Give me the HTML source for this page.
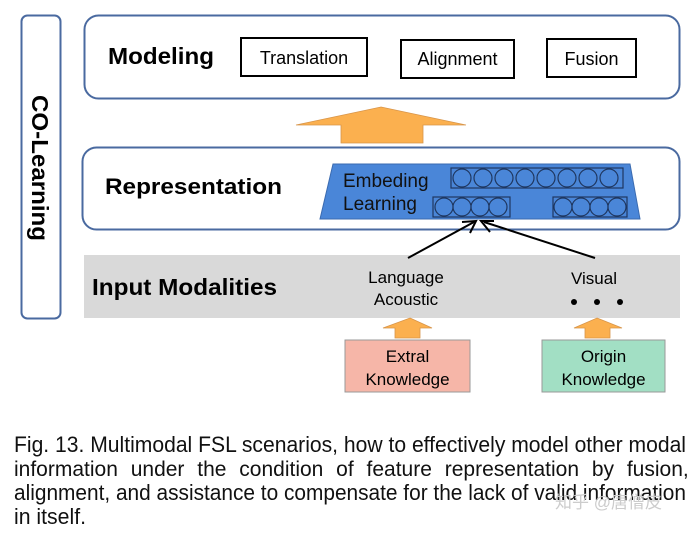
<!DOCTYPE html>
<html><head><style>html,body{margin:0;padding:0;background:#fff;}</style></head>
<body>
<svg width="700" height="532" viewBox="0 0 700 532" xmlns="http://www.w3.org/2000/svg" font-family="Liberation Sans, Arial, sans-serif">
<rect x="0" y="0" width="700" height="532" fill="#fff"/>
<rect x="21.5" y="15.5" width="39" height="303" rx="6" fill="#fff" stroke="#4a6aa0" stroke-width="2"/>
<text x="0" y="0" transform="translate(32,168) rotate(90)" text-anchor="middle" font-size="23" font-weight="bold" textLength="146" lengthAdjust="spacingAndGlyphs">CO-Learning</text>
<rect x="84.5" y="15.5" width="595" height="83" rx="14" fill="#fff" stroke="#4a6aa0" stroke-width="2"/>
<text x="108" y="64" font-size="23" font-weight="bold" textLength="106" lengthAdjust="spacingAndGlyphs">Modeling</text>
<rect x="241" y="38" width="126" height="38" fill="#fff" stroke="#000" stroke-width="2"/>
<text x="304" y="64" text-anchor="middle" font-size="18">Translation</text>
<rect x="401" y="40" width="113" height="38" fill="#fff" stroke="#000" stroke-width="2"/>
<text x="457.5" y="65" text-anchor="middle" font-size="18">Alignment</text>
<rect x="547" y="39" width="89" height="38" fill="#fff" stroke="#000" stroke-width="2"/>
<text x="591.5" y="65" text-anchor="middle" font-size="18">Fusion</text>
<polygon points="381,107 466,125 423,125 423,143 341,143 341,125 296,125" fill="#fbb04f" stroke="#d8954a" stroke-width="0.8"/>
<rect x="82.5" y="147.5" width="597" height="82" rx="14" fill="#fff" stroke="#4a6aa0" stroke-width="2"/>
<text x="105" y="194" font-size="22" font-weight="bold" textLength="177" lengthAdjust="spacingAndGlyphs">Representation</text>
<polygon points="333,164 630,164 640,219 320,219" fill="#4a86d8" stroke="#3b6bb0" stroke-width="1"/>
<text x="343" y="187" font-size="19" fill="#111">Embeding</text>
<text x="343" y="210" font-size="19" fill="#111">Learning</text>
<g fill="none" stroke="#1f3760" stroke-width="1.2">
<rect x="451" y="168" width="172" height="20"/>
<circle cx="462" cy="178" r="9"/><circle cx="483" cy="178" r="9"/><circle cx="504" cy="178" r="9"/><circle cx="525" cy="178" r="9"/><circle cx="546" cy="178" r="9"/><circle cx="567" cy="178" r="9"/><circle cx="588" cy="178" r="9"/><circle cx="609" cy="178" r="9"/>
<rect x="433" y="197" width="77" height="20"/>
<circle cx="444" cy="207" r="9"/><circle cx="462" cy="207" r="9"/><circle cx="480" cy="207" r="9"/><circle cx="498" cy="207" r="9"/>
<rect x="553" y="197" width="74" height="20"/>
<circle cx="563" cy="207" r="9"/><circle cx="581" cy="207" r="9"/><circle cx="599" cy="207" r="9"/><circle cx="617" cy="207" r="9"/>
</g>
<rect x="84" y="255" width="596" height="63" fill="#d9d9d9"/>
<text x="92" y="295" font-size="23" font-weight="bold" textLength="185" lengthAdjust="spacingAndGlyphs">Input Modalities</text>
<text x="406" y="283" text-anchor="middle" font-size="17">Language</text>
<text x="406" y="305" text-anchor="middle" font-size="17">Acoustic</text>
<text x="594" y="284" text-anchor="middle" font-size="17">Visual</text>
<circle cx="574" cy="302" r="3" fill="#000"/><circle cx="597" cy="302" r="3" fill="#000"/><circle cx="620" cy="302" r="3" fill="#000"/>
<g stroke="#000" stroke-width="2" fill="none">
<line x1="408" y1="258" x2="474" y2="222"/>
<polyline points="462,222 476,221 470,233"/>
<line x1="595" y1="258" x2="484" y2="222"/>
<polyline points="494,221 481,221 490,232"/>
</g>
<polygon points="410,318 432,328 420,328 420,338 395,338 395,328 383,328" fill="#fbb04f" stroke="#d8954a" stroke-width="0.8"/>
<polygon points="597,318 622,328 610,328 610,338 585,338 585,328 574,328" fill="#fbb04f" stroke="#d8954a" stroke-width="0.8"/>
<rect x="345" y="340" width="125" height="52" fill="#f6b6a8" stroke="#999" stroke-width="1"/>
<text x="407.5" y="362" text-anchor="middle" font-size="17">Extral</text>
<text x="407.5" y="385" text-anchor="middle" font-size="17">Knowledge</text>
<rect x="542" y="340" width="123" height="52" fill="#a2dfc4" stroke="#999" stroke-width="1"/>
<text x="603.5" y="362" text-anchor="middle" font-size="17">Origin</text>
<text x="603.5" y="385" text-anchor="middle" font-size="17">Knowledge</text>
<g font-size="22" fill="#111">
<text x="14" y="452" textLength="672" lengthAdjust="spacingAndGlyphs">Fig. 13. Multimodal FSL scenarios, how to effectively model other modal</text>
<text x="14" y="476" font-size="21" word-spacing="7">information under the condition of feature representation by fusion,</text>
<text x="14" y="500" textLength="672" lengthAdjust="spacingAndGlyphs">alignment, and assistance to compensate for the lack of valid information</text>
<text x="14" y="524" textLength="72" lengthAdjust="spacingAndGlyphs">in itself.</text>
</g>
<text x="555" y="508" font-size="17" fill="#ccc" font-family="Liberation Sans, Noto Sans CJK SC, sans-serif">知乎 @唐僧皮</text>
</svg>
</body></html>
